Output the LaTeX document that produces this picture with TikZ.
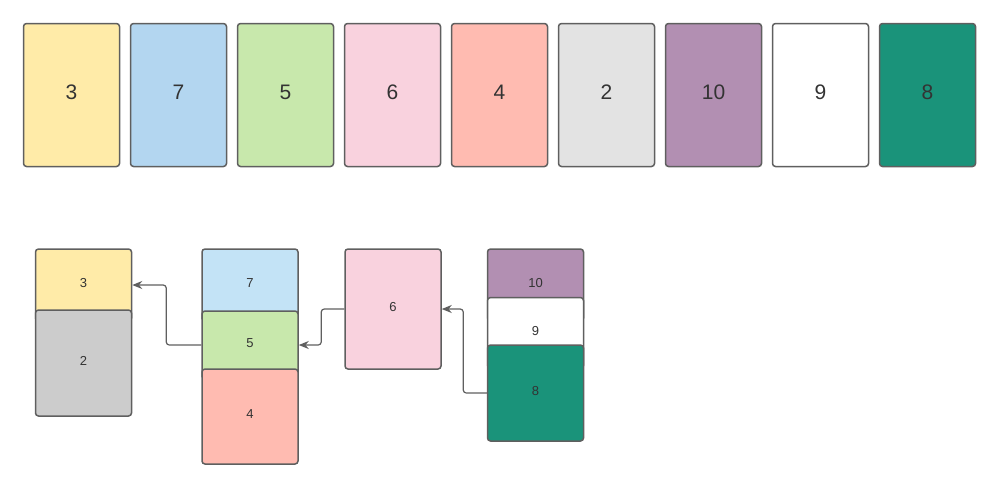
\documentclass[tikz,border=0pt]{standalone}
\usepackage{fontspec}
\setmainfont{Liberation Sans}
\usepackage{tikz}
\usetikzlibrary{arrows.meta}
\definecolor{cyellow}{HTML}{FFEBA8}
\definecolor{cblue}{HTML}{B3D6F0}
\definecolor{clblue}{HTML}{C3E3F6}
\definecolor{cgreen}{HTML}{C8E8AC}
\definecolor{cpink}{HTML}{F9D2DE}
\definecolor{csalmon}{HTML}{FFBBB1}
\definecolor{cgray}{HTML}{E3E3E3}
\definecolor{cdgray}{HTML}{CCCCCC}
\definecolor{cpurple}{HTML}{B28FB2}
\definecolor{cteal}{HTML}{1A937A}
\definecolor{cline}{HTML}{5F5F5F}
\definecolor{ctext}{HTML}{333333}
\tikzstyle{big} = [rectangle, rounded corners=3pt, line width=1.5pt, draw=cline, text=ctext, minimum width=96pt, minimum height=143pt, text depth=6pt, font=\fontsize{21}{25}\selectfont]
\tikzstyle{small} = [rectangle, rounded corners=3pt, line width=1.5pt, draw=cline, text=ctext, minimum width=96pt, text depth=4pt, font=\fontsize{13}{15}\selectfont]
\tikzstyle{arr} = [line width=1.2pt, draw=cline, rounded corners=3pt, -{Stealth[length=10pt,width=8pt]}]

\begin{document}
\begin{tikzpicture}[x=1pt,y=-1pt]
    \useasboundingbox (0,0) rectangle (1000,488);
    % top row
    \node (T3) [big, fill=cyellow] at (71.5,95) {3};
    \node (T7) [big, fill=cblue] at (178.5,95) {7};
    \node (T5) [big, fill=cgreen] at (285.5,95) {5};
    \node (T6) [big, fill=cpink] at (392.5,95) {6};
    \node (T4) [big, fill=csalmon] at (499.5,95) {4};
    \node (T2) [big, fill=cgray] at (606.5,95) {2};
    \node (T10) [big, fill=cpurple] at (713.5,95) {10};
    \node (T9) [big, fill=white] at (820.5,95) {9};
    \node (T8) [big, fill=cteal] at (927.5,95) {8};
    % bottom stacks
    \node (B3) [small, fill=cyellow, minimum height=72pt] at (83.5,285) {3};
    \node (B2) [small, fill=cdgray, minimum height=106pt] at (83.5,363) {2};
    \node (B7) [small, fill=clblue, minimum height=72pt] at (250,285) {7};
    \node (B5) [small, fill=cgreen, minimum height=68pt] at (250,345) {5};
    \node (B4) [small, fill=csalmon, minimum height=95pt] at (250,416.5) {4};
    \node (B6) [small, fill=cpink, minimum height=120pt] at (393,309) {6};
    \node (B10) [small, fill=cpurple, minimum height=72pt] at (535.5,285) {10};
    \node (B9) [small, fill=white, minimum height=71pt] at (535.5,333) {9};
    \node (B8) [small, fill=cteal, minimum height=96pt] at (535.5,393) {8};
    \draw[arr] (B5.west) -- ++(-35,0) |- (B3.east);
    \draw[arr] (B6.west) -- ++(-23,0) |- (B5.east);
    \draw[arr] (B8.west) -- ++(-23.5,0) |- (B6.east);
\end{tikzpicture}
\end{document}
